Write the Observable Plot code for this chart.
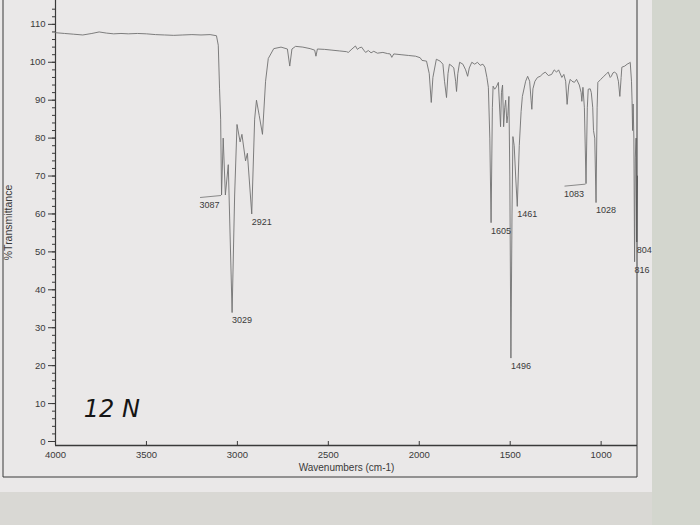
<!DOCTYPE html>
<html><head><meta charset="utf-8">
<script src="https://cdn.jsdelivr.net/npm/d3@7"></script>
<script src="https://cdn.jsdelivr.net/npm/@observablehq/plot@0.6"></script>
<style>
html,body{margin:0;padding:0;background:#e9e7e7;}
#chart{width:700px;height:525px;}
</style>
</head><body><div id="chart"></div>
<script>
// ---- data ----
const wavenumbers = [
4000,3950,3900,3850,3800,3760,3720,3680,3640,3600,3550,3500,3450,3400,3350,3300,3250,3200,3150,3115,
3105,3098,3092,3087,3078,3066,3050,3029,3015,3002,2985,2975,2955,2945,2921,2905,2895,2880,2862,2845,
2830,2800,2760,2725,2712,2700,2680,2640,2600,2575,2568,2560,2520,2480,2440,2400,2390,2370,2351,2340,
2330,2317,2305,2295,2280,2265,2250,2230,2200,2175,2160,2151,2140,2100,2060,2020,1995,1985,1960,1945,
1934,1925,1906,1885,1870,1861,1850,1842,1834,1820,1810,1800,1795,1788,1778,1760,1745,1734,1725,1711,
1695,1680,1665,1650,1639,1628,1620,1612,1605,1598,1594,1585,1576,1565,1553,1548,1542,1536,1530,1525,
1518,1513,1507,1502,1496,1490,1485,1478,1470,1461,1450,1440,1433,1415,1404,1393,1385,1381,1375,1364,
1350,1335,1320,1307,1290,1272,1258,1245,1234,1216,1205,1195,1187,1178,1170,1160,1147,1135,1120,1110,
1106,1100,1092,1083,1076,1071,1060,1054,1046,1042,1035,1028,1022,1018,1002,985,970,961,950,944,
935,927,915,905,897,890,886,870,857,845,840,833,830,827,824,820,816,812,808,804,800];
const transmittance = [
107.8,107.6,107.4,107.2,107.6,108.0,107.7,107.5,107.6,107.5,107.6,107.5,107.3,107.2,107.1,107.2,107.3,107.2,107.3,107.0,
104.5,93,85,65,80,65,73,34,65,83.6,79,81,74,76,60,85,90,86,81,95,
101,103.6,104,103.5,99,103.5,104.2,104,103.6,103.2,101.6,103.5,103.4,103.2,103.0,102.8,102.6,103.5,104.3,103.4,
103.8,104,103.2,102.6,103.1,102.5,102.9,102.4,102.6,102.3,102.2,101.3,102.2,102,101.8,101.6,101.2,100.5,100.3,97,
89.4,96,100.8,100.3,99.5,95,90.7,97,99.5,99,98.5,95,92.3,97,100,99.5,98,96.3,98.5,100,
99.5,100,99.2,99.5,98.7,96,93.4,80,57.7,88,93.7,92.9,93.5,94.7,83,92,94,83,88,90,
84,86,91,70,22,60,80.4,78,70,62,78,87,91,95,96.3,95,90,87.6,93,95,
96,96.3,97,97.4,96.5,96.8,98,97.4,98,96,96.8,95,88.9,94,95.5,95,94.7,95.5,94,92,
89.7,93.4,88,68,88,92.9,93,92,88,82,80,63,88,94.7,95.5,96.3,97,97.4,96,96.3,
97.2,97.4,97,95,91,96,98.7,99,99.5,99.8,100,95,90,82,89,80,47.4,75,80,52.6,70];
const peakWavenumbers = [3087, 3029, 2921, 1605, 1496, 1461, 1083, 1028, 816, 804];
const peakTransmittance = [65, 34, 60, 57.7, 22, 62, 68, 63, 47.4, 52.6];
const xTicks = [4000, 3500, 3000, 2500, 2000, 1500, 1000];
const yTicks = [0, 10, 20, 30, 40, 50, 60, 70, 80, 90, 100, 110];
const xTitle = "Wavenumbers (cm-1)";
const yTitle = "%Transmittance";
const note = "12 N";

// ---- build tables ----
const spectrum = wavenumbers.map((w, i) => ({w, t: transmittance[i]}));
const peaks = peakWavenumbers.map((w, i) => ({w, t: peakTransmittance[i], label: String(w)}));
const leftLabelled = new Set([3087, 1083]);
const belowPeaks = peaks.filter(p => !leftLabelled.has(p.w));
const leftPeaks = peaks.filter(p => leftLabelled.has(p.w));

const ink = "#3a3a3a";
const font = "Liberation Sans, Arial, sans-serif";

const plot = Plot.plot({
  width: 700,
  height: 525,
  marginLeft: 55,
  marginRight: 63,
  marginTop: 3,
  marginBottom: 84,
  style: {background: "transparent", fontFamily: font, fontSize: "9.5px", color: ink},
  x: {domain: [4000, 800]},
  y: {domain: [0, 115.5]},
  marks: [
    Plot.axisY({ticks: d3.range(0, 116, 2), tickSize: 3, text: null, label: null, stroke: ink}),
    Plot.axisY({ticks: yTicks, tickSize: 7, tickPadding: 3, label: null, tickFormat: d => String(d), stroke: ink, fill: ink, fontSize: 9.5}),
    Plot.axisX({ticks: xTicks, tickSize: 4, tickPadding: 6, label: null, tickFormat: d => String(d), stroke: ink, fill: ink, fontSize: 9.5}),
    Plot.ruleX([4000], {stroke: ink, strokeWidth: 1.2, insetTop: -4, insetBottom: -4}),
    Plot.ruleY([0], {stroke: ink, strokeWidth: 1.3, dy: 4}),
    Plot.line(spectrum, {x: "w", y: "t", stroke: "#707070", strokeWidth: 0.9, curve: "linear"}),
    Plot.text(belowPeaks, {x: "w", y: "t", text: "label", textAnchor: "start", dy: 8, dx: 0, fontSize: 9, fill: ink}),
    Plot.text(leftPeaks, {x: "w", y: "t", text: "label", textAnchor: "end", dy: 10, dx: -2, fontSize: 9, fill: ink}),
    Plot.text([xTitle], {frameAnchor: "bottom", dy: 29, fontSize: 10, fill: ink}),
    Plot.text([yTitle], {frameAnchor: "left", textAnchor: "middle", dx: -47, rotate: -90, fontSize: 10.5, fill: ink}),
    Plot.text([note], {x: 3690, y: 8.5, fontSize: 24, fontStyle: "italic", fontFamily: "DejaVu Sans, sans-serif", fill: "#151515"})
  ]
});

const sx = plot.scale("x"), sy = plot.scale("y");
const svg = d3.select(plot);
const deco = svg.insert("g", ":first-child");
deco.append("rect").attr("x", 0).attr("y", 0).attr("width", 700).attr("height", 525).attr("fill", "#e9e7e7");
deco.append("rect").attr("x", 0).attr("y", 492).attr("width", 700).attr("height", 33).attr("fill", "#d9d8d4");
deco.append("rect").attr("x", 652).attr("y", 0).attr("width", 48).attr("height", 525).attr("fill", "#d3d6ce");
deco.append("rect").attr("x", 0).attr("y", 0).attr("width", 652).attr("height", 492).attr("fill", "#eae8e8");
const frame = svg.append("g").attr("stroke", ink).attr("fill", "none");
frame.append("path").attr("d", "M3,0V477H637V0").attr("stroke-width", 1);
// leader lines for the labels placed to the left of their peak
for (const p of leftPeaks) {
  const x = sx.apply(p.w), y = sy.apply(p.t);
  frame.append("line").attr("x1", x).attr("y1", y + 1).attr("x2", x - 21).attr("y2", y + 3)
    .attr("stroke", "#707070").attr("stroke-width", 0.8);
}
document.getElementById("chart").appendChild(plot);
</script>
</body></html>
